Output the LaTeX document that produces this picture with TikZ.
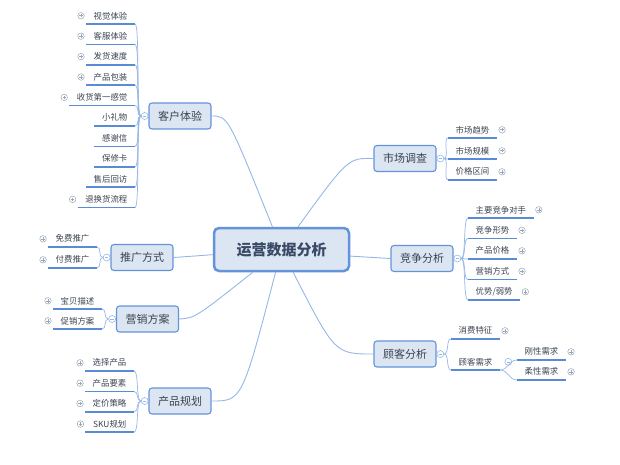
\documentclass[tikz,border=0pt]{standalone}
\usepackage{fontspec}
\setmainfont{Noto Sans CJK SC}
\usetikzlibrary{positioning}

\definecolor{boxfill}{HTML}{DCE6F3}
\definecolor{boxline}{HTML}{6393D8}
\definecolor{inkcol}{HTML}{3A4250}
\definecolor{hubink}{HTML}{3A4A66}
\definecolor{twigcol}{HTML}{95B7E6}
\definecolor{ulcol}{HTML}{5A8BD6}
\definecolor{iconcol}{HTML}{98A6BA}

\begin{document}
\begin{tikzpicture}%
  [x=1pt,y=-1pt,
   hub/.style=
    {draw=boxline,fill=boxfill,line width=2.5pt,rounded corners=5pt,
     minimum width=135pt,minimum height=43pt,text=hubink,
     font=\fontsize{15}{18}\selectfont\bfseries},
   topic/.style=
    {draw=boxline,fill=boxfill,line width=1.1pt,rounded corners=3pt,
     minimum width=62pt,minimum height=26pt,text=inkcol,
     font=\fontsize{11}{13}\selectfont},
   leafl/.style=
    {anchor=south east,minimum height=16pt,inner xsep=7.5pt,inner ysep=0pt,
     text=inkcol,font=\fontsize{8.4}{9}\selectfont},
   leafr/.style={leafl,anchor=south west},
   uline/.style={draw=ulcol,line width=1.5pt},
   twig/.style={draw=twigcol,line width=.7pt},
   limb/.style={draw=twigcol,line width=.9pt},
   expander/.style=
    {circle,draw=iconcol,fill=white,line width=.5pt,minimum size=6.5pt,inner sep=0pt,
     path picture={\draw[iconcol,line width=.6pt]
       (path picture bounding box.center) ++(-1.7pt,0pt) -- ++(3.4pt,0pt)
       (path picture bounding box.center) ++(0pt,-1.7pt) -- ++(0pt,3.4pt);}},
   collapser/.style=
    {circle,draw=twigcol,fill=white,line width=.6pt,minimum size=7pt,inner sep=0pt,
     path picture={\draw[twigcol,line width=.6pt]
       (path picture bounding box.center) ++(-1.8pt,0pt) -- ++(3.6pt,0pt);}}
  ]
  \useasboundingbox (0,0) rectangle (620,465);

  % main topics
  \node[hub] (hub) at (281.5,249.5) {运营数据分析};
  \node[topic] (kh) at (180,116) {客户体验};
  \node[topic] (tg) at (142,257.5) {推广方式};
  \node[topic] (yx) at (147.5,319) {营销方案};
  \node[topic] (cp) at (180,401) {产品规划};
  \node[topic] (sc) at (405,158.5) {市场调查};
  \node[topic] (jz) at (422,258.5) {竞争分析};
  \node[topic] (gk) at (405,354) {顾客分析};

  \draw[limb] (hub) .. controls (228,116) .. (kh.east);
  \draw[limb] (hub) .. controls (195,256) .. (tg.east);
  \draw[limb] (hub) .. controls (195,318) .. (yx.east);
  \draw[limb] (hub) .. controls (242,401) .. (cp.east);
  \draw[limb] (hub) .. controls (348,158) .. (sc.west);
  \draw[limb] (hub) .. controls (370,258) .. (jz.west);
  \draw[limb] (hub) .. controls (335,354) .. (gk.west);

  \node[collapser,left=0pt of kh] (khx) {};
  \node[collapser,left=0pt of tg] (tgx) {};
  \node[collapser,left=0pt of yx] (yxx) {};
  \node[collapser,left=0pt of cp] (cpx) {};
  \node[collapser,right=0pt of sc] (scx) {};
  \node[collapser,right=0pt of jz] (jzx) {};
  \node[collapser,right=0pt of gk] (gkx) {};

  % left side leaves
  \foreach \t [count=\i] in {视觉体验,客服体验,发货速度,产品包装,收货第一感觉,
                             小礼物,感谢信,保修卡,售后回访,退换货流程}
    \node[leafl] (kh\i) at (135,{24+20.4*(\i-1)}) {\t};
  \foreach \t [count=\i] in {免费推广,付费推广}
    \node[leafl] (tg\i) at (97,{247+21*(\i-1)}) {\t};
  \foreach \t [count=\i] in {宝贝描述,促销方案}
    \node[leafl] (yx\i) at (102,{309+20*(\i-1)}) {\t};
  \foreach \t [count=\i] in {选择产品,产品要素,定价策略,SKU规划}
    \node[leafl] (cp\i) at (134,{371+20.4*(\i-1)}) {\t};

  \foreach \i in {1,...,10} \draw[twig] (kh\i.south east) .. controls +(5,0) and +(-5,0) .. (khx.west);
  \foreach \i in {1,2} \draw[twig] (tg\i.south east) .. controls +(5,0) and +(-5,0) .. (tgx.west);
  \foreach \i in {1,2} \draw[twig] (yx\i.south east) .. controls +(5,0) and +(-5,0) .. (yxx.west);
  \foreach \i in {1,...,4} \draw[twig] (cp\i.south east) .. controls +(5,0) and +(-5,0) .. (cpx.west);

  \foreach \n in {kh1,kh2,kh3,kh4,kh5,kh6,kh7,kh8,kh9,kh10,tg1,tg2,yx1,yx2,cp1,cp2,cp3,cp4}
    \draw[uline] (\n.south west) -- (\n.south east);
  \foreach \n in {kh1,kh2,kh3,kh4,kh5,kh10,tg1,tg2,yx1,yx2,cp1,cp2,cp3,cp4}
    \node[expander,left=1.5pt of \n] (p\n) {};

  % right side leaves
  \foreach \t [count=\i] in {市场趋势,市场规模,价格区间}
    \node[leafr] (sc\i) at (448,{138+21*(\i-1)}) {\t};
  \foreach \t [count=\i] in {主要竞争对手,竞争形势,产品价格,营销方式,优势/弱势}
    \node[leafr] (jz\i) at (468,{218+20.5*(\i-1)}) {\t};
  \foreach \t [count=\i] in {消费特征,顾客需求}
    \node[leafr] (gk\i) at (451,{339+31*(\i-1)}) {\t};
  \foreach \t [count=\i] in {刚性需求,柔性需求}
    \node[leafr] (gx\i) at (517,{360+20*(\i-1)}) {\t};
  \node[collapser,right=4.5pt of gk2] (gkx2) {};

  \foreach \i in {1,...,3} \draw[twig] (scx.east) .. controls +(5,0) and +(-5,0) .. (sc\i.south west);
  \foreach \i in {1,...,5} \draw[twig] (jzx.east) .. controls +(5,0) and +(-5,0) .. (jz\i.south west);
  \foreach \i in {1,2} \draw[twig] (gkx.east) .. controls +(5,0) and +(-5,0) .. (gk\i.south west);
  \foreach \i in {1,2} \draw[twig] (gk2.south east) .. controls +(8,0) and +(-8,0) .. (gx\i.south west);

  \foreach \n in {sc1,sc2,sc3,jz1,jz2,jz3,jz4,jz5,gk1,gk2,gx1,gx2}
    \draw[uline] (\n.south west) -- (\n.south east);
  \foreach \n in {sc1,sc2,sc3,jz1,jz2,jz3,jz4,jz5,gk1,gx1,gx2}
    \node[expander,right=1.5pt of \n] (p\n) {};
\end{tikzpicture}
\end{document}
